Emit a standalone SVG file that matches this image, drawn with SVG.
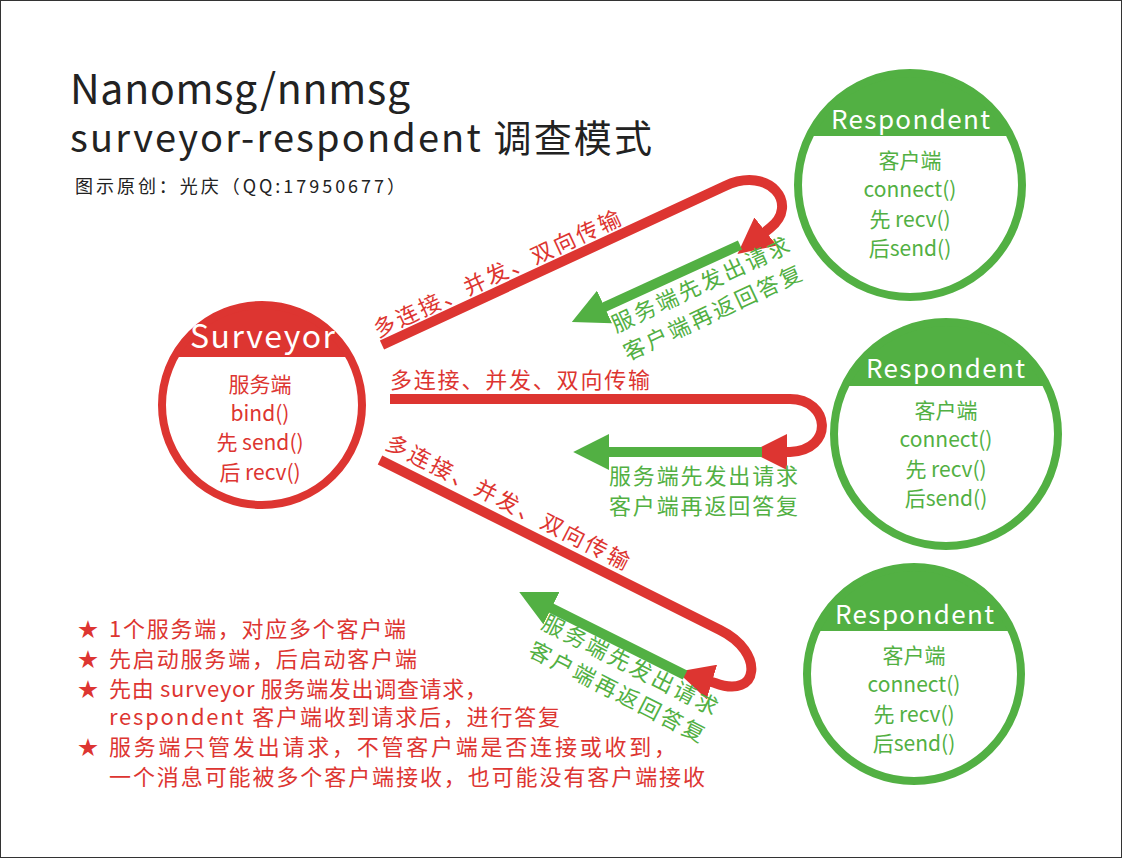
<svg xmlns="http://www.w3.org/2000/svg" width="1122" height="858" viewBox="0 0 1122 858">
<style>
text{font-family:"Noto Sans CJK SC","Noto Sans",sans-serif}
.r{fill:#dd3531}.g{fill:#52b043}.w{fill:#fff}
.rl{stroke:#dd3531;stroke-width:10;fill:none}
.gl{stroke:#52b043;stroke-width:10;fill:none}
</style>
<defs>
<marker id="ar" viewBox="0 0 10 10" refX="2" refY="5" markerWidth="3.6" markerHeight="3.6" orient="auto" markerUnits="strokeWidth"><path d="M0,0L10,5L0,10z" fill="#dd3531"/></marker>
<marker id="ag" viewBox="0 0 10 10" refX="2" refY="5" markerWidth="3.6" markerHeight="3.6" orient="auto" markerUnits="strokeWidth"><path d="M0,0L10,5L0,10z" fill="#52b043"/></marker>
<clipPath id="c0"><circle cx="262" cy="405" r="100"/></clipPath>
<clipPath id="c1"><circle cx="910" cy="185" r="112"/></clipPath>
<clipPath id="c2"><circle cx="946" cy="434" r="112"/></clipPath>
<clipPath id="c3"><circle cx="914" cy="674" r="107"/></clipPath>
</defs>
<rect x="0.5" y="0.5" width="1121" height="857" fill="#fff" stroke="#333"/>
<text x="70" y="104" font-size="41" fill="#222" font-family="Noto Sans" textLength="340">Nanomsg/nnmsg</text>
<text x="70" y="152" font-size="38" fill="#222" textLength="582">surveyor-respondent 调查模式</text>
<text x="75" y="193" font-size="18" fill="#222" textLength="330">图示原创：光庆（QQ:17950677）</text>

<g id="connectors">
<path class="rl" d="M382,345 L725,186 C770,165 800,205 770,228 L760,236" marker-end="url(#ar)"/>
<path class="gl" d="M740,245 L598,310" marker-end="url(#ag)"/>
<path class="rl" d="M390,399 L790,399 C830,399 835,450 790,452 L780,452" marker-end="url(#ar)"/>
<path class="gl" d="M762,452 L602,452" marker-end="url(#ag)"/>
<path class="rl" d="M380,460 L720,630 C765,652 760,700 715,683 L705,680" marker-end="url(#ar)"/>
<path class="gl" d="M685,675 L545,605" marker-end="url(#ag)"/>
</g>
<g font-size="22">
<text class="r" transform="translate(378,338) rotate(-25)" textLength="270">多连接、并发、双向传输</text>
<text class="r" x="390" y="388" textLength="260">多连接、并发、双向传输</text>
<text class="r" transform="translate(384,448) rotate(27)" textLength="270">多连接、并发、双向传输</text>
<text class="g" transform="translate(616,333) rotate(-25)" textLength="194">服务端先发出请求</text>
<text class="g" transform="translate(628,361) rotate(-25)" textLength="194">客户端再返回答复</text>
<text class="g" x="609" y="484" textLength="189">服务端先发出请求</text>
<text class="g" x="609" y="514" textLength="189">客户端再返回答复</text>
<text class="g" transform="translate(540,628) rotate(27)" textLength="194">服务端先发出请求</text>
<text class="g" transform="translate(527,655) rotate(27)" textLength="194">客户端再返回答复</text>
</g>

<g id="surveyor">
<rect x="150" y="290" width="230" height="67" class="r" clip-path="url(#c0)"/>
<circle cx="262" cy="405" r="100" fill="none" stroke="#dd3531" stroke-width="8"/>
<text class="w" x="190" y="348" font-size="32" font-family="Noto Sans" textLength="145">Surveyor</text>
<g class="r" font-size="21" text-anchor="middle">
<text x="260" y="392">服务端</text><text x="260" y="421">bind()</text><text x="260" y="450">先 send()</text><text x="260" y="480">后 recv()</text></g>
</g>
<g id="respondent1">
<rect x="790" y="60" width="240" height="76" class="g" clip-path="url(#c1)"/>
<circle cx="910" cy="185" r="112" fill="none" stroke="#52b043" stroke-width="8"/>
<text class="w" x="831" y="129" font-size="26" font-family="Noto Sans" textLength="159">Respondent</text>
<g class="g" font-size="21" text-anchor="middle"><text x="910" y="168">客户端</text><text x="910" y="197">connect()</text><text x="910" y="227">先 recv()</text><text x="910" y="256">后send()</text></g>
</g>
<g id="respondent2">
<rect x="826" y="310" width="240" height="76" class="g" clip-path="url(#c2)"/>
<circle cx="946" cy="434" r="112" fill="none" stroke="#52b043" stroke-width="8"/>
<text class="w" x="866" y="378" font-size="26" font-family="Noto Sans" textLength="159">Respondent</text>
<g class="g" font-size="21" text-anchor="middle"><text x="946" y="418">客户端</text><text x="946" y="447">connect()</text><text x="946" y="477">先 recv()</text><text x="946" y="506">后send()</text></g>
</g>
<g id="respondent3">
<rect x="794" y="555" width="240" height="76" class="g" clip-path="url(#c3)"/>
<circle cx="914" cy="674" r="107" fill="none" stroke="#52b043" stroke-width="8"/>
<text class="w" x="835" y="624" font-size="26" font-family="Noto Sans" textLength="159">Respondent</text>
<g class="g" font-size="21" text-anchor="middle"><text x="914" y="663">客户端</text><text x="914" y="692">connect()</text><text x="914" y="722">先 recv()</text><text x="914" y="751">后send()</text></g>
</g>
<g class="r" font-size="22">
<text x="78" y="637" font-size="20">★</text><text x="78" y="667" font-size="20">★</text><text x="78" y="697" font-size="20">★</text><text x="78" y="755" font-size="20">★</text>
<text x="109" y="637" textLength="297">1个服务端，对应多个客户端</text>
<text x="109" y="667" textLength="308">先启动服务端，后启动客户端</text>
<text x="109" y="697" textLength="378">先由 surveyor 服务端发出调查请求，</text>
<text x="109" y="725" textLength="451">respondent 客户端收到请求后，进行答复</text>
<text x="109" y="755" textLength="567">服务端只管发出请求，不管客户端是否连接或收到，</text>
<text x="109" y="785" textLength="596">一个消息可能被多个客户端接收，也可能没有客户端接收</text>
</g>
</svg>
